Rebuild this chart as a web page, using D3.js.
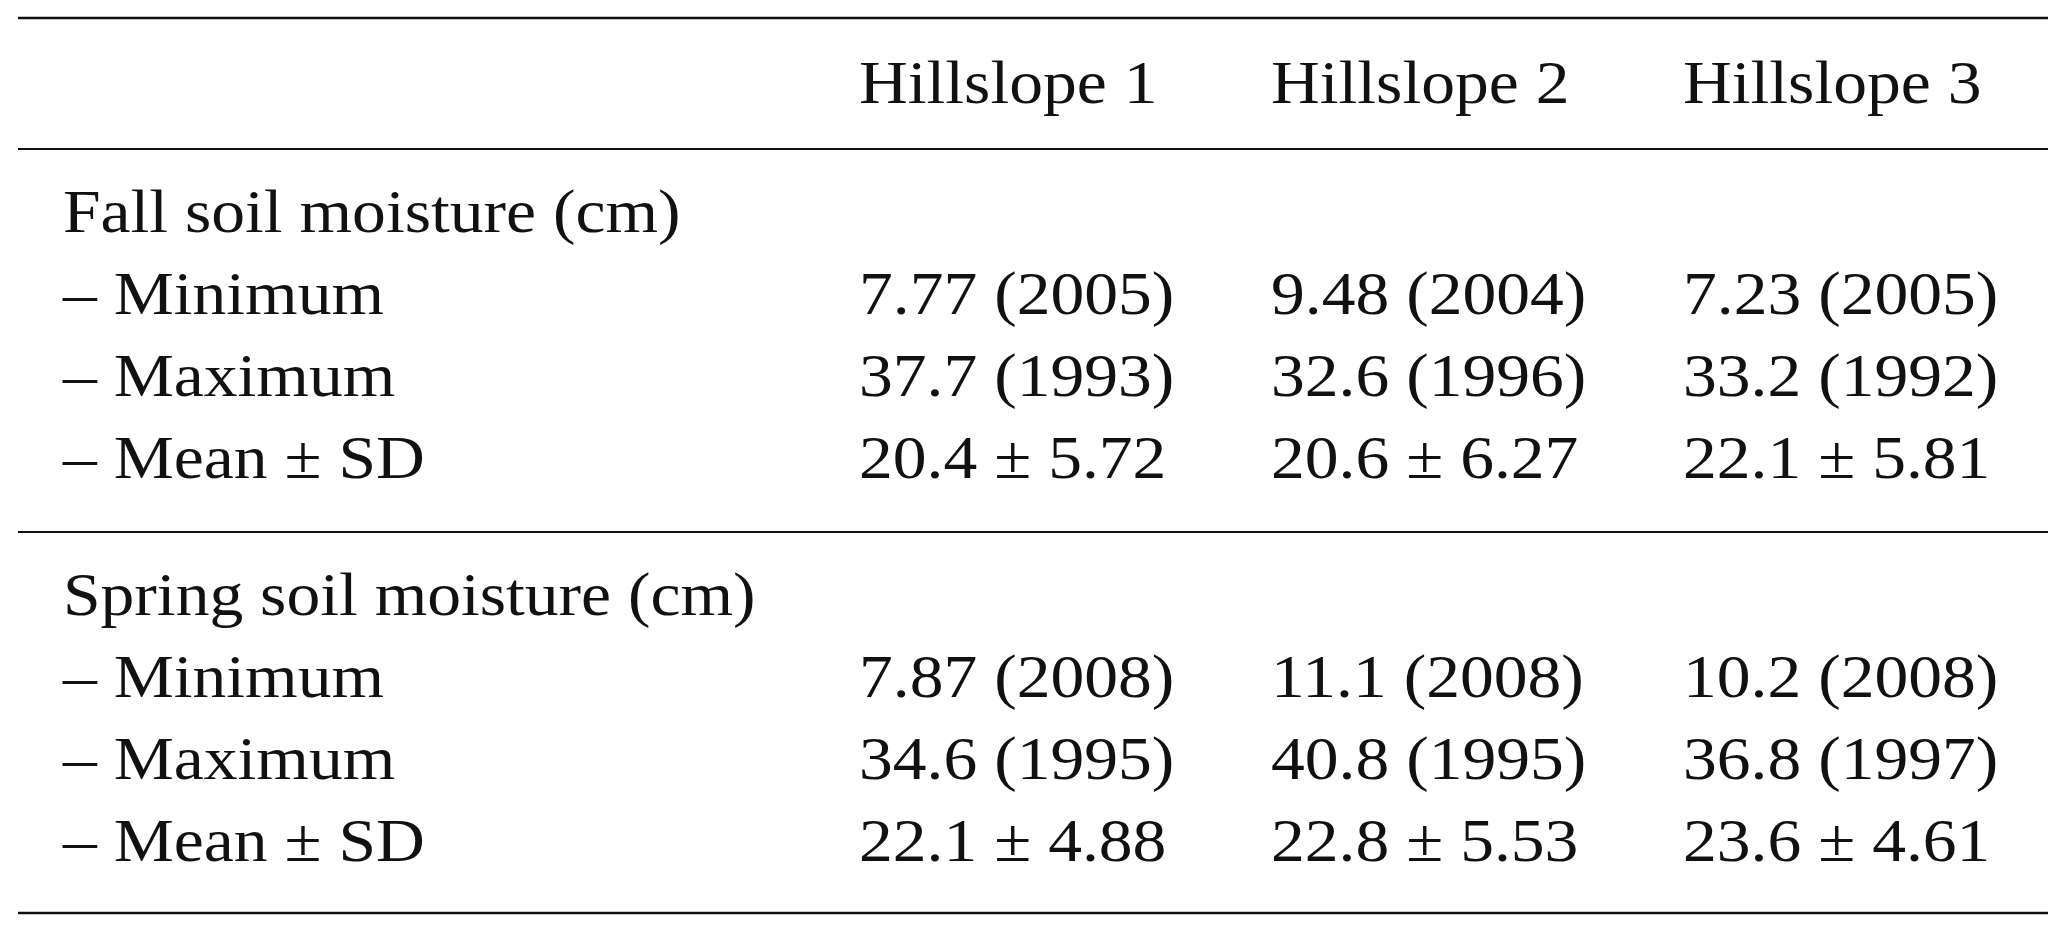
<!DOCTYPE html>
<html>
<head>
<meta charset="utf-8">
<script src="https://cdn.jsdelivr.net/npm/d3@7"></script>
<style>
body{margin:0;background:#fff;}
text{font-family:"Liberation Serif","DejaVu Serif",serif;fill:#111;}
</style>
</head>
<body>
<script>
var columns = ["Hillslope 1","Hillslope 2","Hillslope 3"];
var sections = ["Fall soil moisture (cm)","Spring soil moisture (cm)"];
var rowLabels = ["– Minimum","– Maximum","– Mean ± SD"];
var fallValues = [
  ["7.77 (2005)","9.48 (2004)","7.23 (2005)"],
  ["37.7 (1993)","32.6 (1996)","33.2 (1992)"],
  ["20.4 ± 5.72","20.6 ± 6.27","22.1 ± 5.81"]
];
var springValues = [
  ["7.87 (2008)","11.1 (2008)","10.2 (2008)"],
  ["34.6 (1995)","40.8 (1995)","36.8 (1997)"],
  ["22.1 ± 4.88","22.8 ± 5.53","23.6 ± 4.61"]
];

var w = 2067, h = 934;
var svg = d3.select("body").append("svg").attr("width", w).attr("height", h);

var colX = {"label":63,"Hillslope 1":859,"Hillslope 2":1271,"Hillslope 3":1683};
var fs = 62;

function put(tx, xx, yy){
  svg.append("text")
    .attr("transform","translate(" + xx + "," + yy + ") scale(1.09,1)")
    .attr("font-size",fs).text(tx);
}

// horizontal rules
[[18,2.5],[149,2],[532,2],[913,2.5]].forEach(function(r){
  svg.append("line").attr("x1",18).attr("x2",2048).attr("y1",r[0]).attr("y2",r[0])
    .attr("stroke","#111").attr("stroke-width",r[1]);
});

columns.forEach(function(c){ put(c, colX[c], 103); });

var blocks = [[sections[0],fallValues,232],[sections[1],springValues,615]];
var y = d3.scaleLinear().domain([0,1]).range([0,82]);
blocks.forEach(function(b){
  put(b[0], colX.label, b[2]);
  rowLabels.forEach(function(lbl,i){
    var yy = b[2] + y(i+1);
    put(lbl, colX.label, yy);
    b[1][i].forEach(function(v,j){
      put(v, colX[columns[j]], yy);
    });
  });
});
</script>
</body>
</html>
